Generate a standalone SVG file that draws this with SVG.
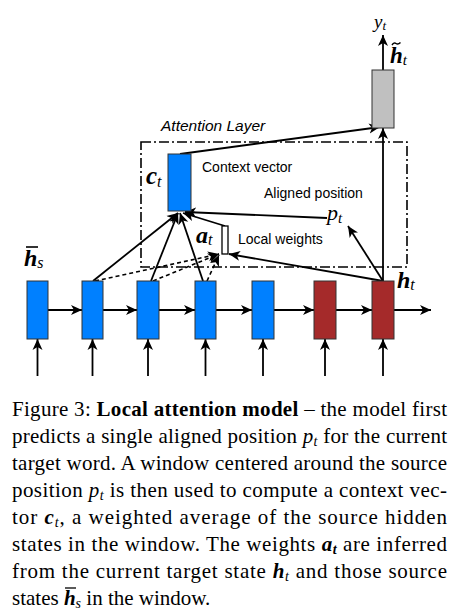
<svg xmlns="http://www.w3.org/2000/svg" width="459" height="614" viewBox="0 0 459 614">
<defs>
<marker id="ah" markerUnits="userSpaceOnUse" markerWidth="13" markerHeight="11" refX="11" refY="5.5" orient="auto">
<path d="M0,0.5 L11,5.5 L0,10.5 L3,5.5 Z" fill="#000"/>
</marker>
</defs>
<style>
.src{fill:#0080ff;stroke:#333;stroke-width:1}
.tgt{fill:#a52a2a;stroke:#333;stroke-width:1}
.gry{fill:#c0c0c0;stroke:#333;stroke-width:1}
.c{stroke:#000;stroke-width:1.8;fill:none;marker-end:url(#ah)}
.d{stroke:#000;stroke-width:1.6;fill:none;stroke-dasharray:4,3;marker-end:url(#ah)}
.sans{font-family:"Liberation Sans",Arial,sans-serif;font-size:14px;fill:#000}
.m{font-family:"Liberation Serif","Times New Roman",serif;font-style:italic;fill:#000}
.mb{font-family:"Liberation Serif","Times New Roman",serif;font-style:italic;font-weight:bold;fill:#000}
.cap{font-family:"Liberation Serif","Times New Roman",serif;font-size:21px;fill:#000}
</style>
<rect width="459" height="614" fill="#fff"/>
<g id="attention-layer">
<rect x="141" y="142" width="266" height="125" fill="none" stroke="#000" stroke-width="1.6" stroke-dasharray="10,3,2,3"/>
<text x="161" y="131" class="sans" font-style="italic" style="font-size:15.5px">Attention Layer</text>
</g>
<g id="connectors">
<line class="c" x1="48" y1="310" x2="82" y2="310"/>
<line class="c" x1="103" y1="310" x2="137" y2="310"/>
<line class="c" x1="159" y1="310" x2="195" y2="310"/>
<line class="c" x1="216" y1="310" x2="252" y2="310"/>
<line class="c" x1="274" y1="310" x2="314" y2="310"/>
<line class="c" x1="336" y1="310" x2="372" y2="310"/>
<line class="c" x1="394" y1="310" x2="431" y2="310"/>
<line class="c" x1="37.5" y1="376" x2="37.5" y2="339"/>
<line class="c" x1="92.5" y1="376" x2="92.5" y2="339"/>
<line class="c" x1="148" y1="376" x2="148" y2="339"/>
<line class="c" x1="205.5" y1="376" x2="205.5" y2="339"/>
<line class="c" x1="263" y1="376" x2="263" y2="339"/>
<line class="c" x1="325" y1="376" x2="325" y2="339"/>
<line class="c" x1="383" y1="376" x2="383" y2="339"/>
<line class="c" x1="383" y1="281" x2="383" y2="128"/>
<line class="c" x1="383" y1="70" x2="383" y2="35"/>
<line class="c" x1="180" y1="154" x2="380" y2="127"/>
<line class="c" x1="327" y1="218" x2="185" y2="212"/>
<line class="c" x1="225" y1="226" x2="183" y2="213"/>
<line class="c" x1="93" y1="281" x2="178" y2="213"/>
<line class="c" x1="151" y1="281" x2="178" y2="213"/>
<line class="c" x1="203" y1="281" x2="180" y2="213"/>
<line class="c" x1="383" y1="281" x2="229" y2="254"/>
<line class="c" x1="383" y1="281" x2="348" y2="226"/>
<line class="d" x1="95" y1="281" x2="219" y2="254"/>
<line class="d" x1="153" y1="281" x2="219" y2="254"/>
<line class="d" x1="207" y1="281" x2="219" y2="255"/>
</g>
<g id="src1"><rect class="src" x="27" y="281" width="21" height="58"/></g>
<g id="src2"><rect class="src" x="82" y="281" width="21" height="58"/></g>
<g id="src3"><rect class="src" x="137" y="281" width="22" height="58"/></g>
<g id="src4"><rect class="src" x="195" y="281" width="21" height="58"/></g>
<g id="src5"><rect class="src" x="252" y="281" width="22" height="58"/></g>
<g id="tgt1"><rect class="tgt" x="314" y="281" width="22" height="58"/></g>
<g id="tgt2"><rect class="tgt" x="372" y="281" width="22" height="58"/></g>
<g id="context-vector">
<rect class="src" x="168" y="154" width="23" height="57"/>
<text x="146" y="184" class="mb" font-size="25">c<tspan font-size="16" dy="3" font-weight="normal">t</tspan></text>
<text x="202" y="172" class="sans">Context vector</text>
</g>
<g id="aligned-position">
<text x="264" y="198" class="sans">Aligned position</text>
<text x="327" y="220" class="m" font-size="22">p<tspan font-size="15" dy="3">t</tspan></text>
</g>
<g id="local-weights">
<rect x="222" y="226" width="6" height="28" fill="#fff" stroke="#000" stroke-width="1.3"/>
<text x="196" y="243" class="mb" font-size="24">a<tspan font-size="16" dy="2" font-weight="normal">t</tspan></text>
<text x="238" y="244" class="sans">Local weights</text>
</g>
<g id="output">
<rect class="gry" x="372" y="70" width="22" height="58"/>
<text x="374" y="28" class="m" font-size="19">y<tspan font-size="13" dy="2">t</tspan></text>
<text x="390" y="63" class="mb" font-size="23">h<tspan font-size="15" dy="2" font-weight="normal">t</tspan></text>
<path d="M392,45 q2,-3 4,-1.5 t4.5,-1" fill="none" stroke="#000" stroke-width="1.5"/>
</g>
<g id="labels">
<text x="24" y="266" class="mb" font-size="24">h<tspan font-size="16" dy="2" font-weight="normal">s</tspan></text>
<line x1="26" y1="247" x2="38" y2="247" stroke="#000" stroke-width="1.6"/>
<text x="397" y="288" class="mb" font-size="24">h<tspan font-size="16" dy="2" font-weight="normal">t</tspan></text>
</g>
<g id="caption">
<text x="12" y="416" class="cap" textLength="435" lengthAdjust="spacing">Figure 3: <tspan font-weight="bold">Local attention model</tspan> – the model first</text>
<text x="12" y="443" class="cap" textLength="435" lengthAdjust="spacing">predicts a single aligned position <tspan font-style="italic">p<tspan font-size="14" dy="3">t</tspan></tspan><tspan dy="-3"> for the current</tspan></text>
<text x="12" y="470" class="cap" textLength="435" lengthAdjust="spacing">target word.  A window centered around the source</text>
<text x="12" y="497" class="cap" textLength="435" lengthAdjust="spacing">position <tspan font-style="italic">p<tspan font-size="14" dy="3">t</tspan></tspan><tspan dy="-3"> is then used to compute a context vec-</tspan></text>
<text x="12" y="524" class="cap" textLength="435" lengthAdjust="spacing">tor <tspan font-style="italic" font-weight="bold">c<tspan font-size="14" dy="3" font-weight="normal">t</tspan></tspan><tspan dy="-3">, a weighted average of the source hidden</tspan></text>
<text x="12" y="551" class="cap" textLength="435" lengthAdjust="spacing">states in the window.  The weights <tspan font-style="italic" font-weight="bold">a<tspan font-size="14" dy="3">t</tspan></tspan><tspan dy="-3"> are inferred</tspan></text>
<text x="12" y="578" class="cap" textLength="435" lengthAdjust="spacing">from the current target state <tspan font-style="italic" font-weight="bold">h<tspan font-size="14" dy="3" font-weight="normal">t</tspan></tspan><tspan dy="-3"> and those source</tspan></text>
<text x="12" y="605" class="cap">states <tspan font-style="italic" font-weight="bold">h<tspan font-size="14" dy="3" font-weight="normal">s</tspan></tspan><tspan dy="-3"> in the window.</tspan></text>
<line x1="65" y1="588" x2="76" y2="588" stroke="#000" stroke-width="1.3"/>
</g>
</svg>
